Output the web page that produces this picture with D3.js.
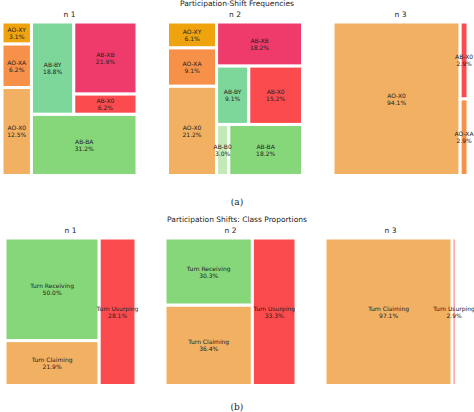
<!DOCTYPE html>
<html>
<head>
<meta charset="utf-8">
<script src="https://cdn.jsdelivr.net/npm/d3@7"></script>
<style>
  body { margin: 0; background: #fff; }
  svg { display: block; }
  text { font-family: "DejaVu Sans", sans-serif; fill: #222; }
</style>
</head>
<body>
<div id="chart"></div>
<script>
// participation-shift frequencies, percent per group (squarify order)
var shiftLabels = [
    ["AO-X0", "AO-XA", "AO-XY", "AB-BA", "AB-BY", "AB-X0", "AB-XB"],
    ["AO-X0", "AO-XA", "AO-XY", "AB-B0", "AB-BA", "AB-BY", "AB-X0", "AB-XB"],
    ["AO-X0", "AO-XA", "AB-X0"]
];
var shiftValues = [
    [12.5, 6.2, 3.1, 31.2, 18.8, 6.2, 21.9],
    [21.2, 9.1, 6.1, 3.0, 18.2, 9.1, 15.2, 18.2],
    [94.1, 2.9, 2.9]
];
// class proportions, percent per group
var classLabels = [
    ["Turn Claiming", "Turn Receiving", "Turn Usurping"],
    ["Turn Claiming", "Turn Receiving", "Turn Usurping"],
    ["Turn Claiming", "Turn Usurping"]
];
var classValues = [
    [21.9, 50.0, 28.1],
    [36.4, 30.3, 33.3],
    [97.1, 2.9]
];
var groupTitles = ["n 1", "n 2", "n 3"];

var colors = {
    "AO-XY": "#efa30f", "AO-XA": "#f79149", "AO-X0": "#f2b062",
    "AB-BY": "#7dd79a", "AB-XB": "#ee3b6b", "AB-X0": "#fb4b4e",
    "AB-BA": "#86d77a", "AB-B0": "#c3e9b7",
    "Turn Receiving": "#86d77a", "Turn Claiming": "#f2b062", "Turn Usurping": "#fb4b4e"
};

// port of python squarify (y axis upward)
function layoutRow(sizes, x, y, dx, dy) {
    var width = d3.sum(sizes) / dy;
    return sizes.map(function(s) { var r = {x: x, y: y, dx: width, dy: s / width}; y += s / width; return r; });
}
function layoutCol(sizes, x, y, dx, dy) {
    var height = d3.sum(sizes) / dx;
    return sizes.map(function(s) { var r = {x: x, y: y, dx: s / height, dy: height}; x += s / height; return r; });
}
function layout(sizes, x, y, dx, dy) {
    return dx >= dy ? layoutRow(sizes, x, y, dx, dy) : layoutCol(sizes, x, y, dx, dy);
}
function leftover(sizes, x, y, dx, dy) {
    var a = d3.sum(sizes);
    if (dx >= dy) { var w = a / dy; return [x + w, y, dx - w, dy]; }
    var h = a / dx; return [x, y + h, dx, dy - h];
}
function worst(sizes, x, y, dx, dy) {
    return d3.max(layout(sizes, x, y, dx, dy), function(r) { return Math.max(r.dx / r.dy, r.dy / r.dx); });
}
function squarify(sizes, x, y, dx, dy) {
    if (sizes.length === 0) return [];
    if (sizes.length === 1) return layout(sizes, x, y, dx, dy);
    var i = 1;
    while (i < sizes.length && worst(sizes.slice(0, i), x, y, dx, dy) >= worst(sizes.slice(0, i + 1), x, y, dx, dy)) i++;
    var cur = sizes.slice(0, i), lo = leftover(cur, x, y, dx, dy);
    return layout(cur, x, y, dx, dy).concat(squarify(sizes.slice(i), lo[0], lo[1], lo[2], lo[3]));
}

var W = 474, H = 412;
var svg = d3.select("#chart").append("svg").attr("width", W).attr("height", H);

function drawPanel(g, labels, values, x0, x1, y0, y1, title) {
    var total = d3.sum(values);
    var sizes = values.map(function(v) { return v / total * 10000; });
    var rects = squarify(sizes, 0, 0, 100, 100);
    var xs = d3.scaleLinear().domain([0, 100]).range([x0, x1]);
    var ys = d3.scaleLinear().domain([0, 100]).range([y1, y0]);

    g.append("text").attr("x", (x0 + x1) / 2).attr("y", y0 - 5)
        .attr("text-anchor", "middle").style("font-size", "7.5px").text(title);

    // patches first, then all labels on top (like matplotlib)
    g.append("g").selectAll("rect").data(rects).enter().append("rect")
        .attr("x", function(d) { return xs(d.x); })
        .attr("y", function(d) { return ys(d.y + d.dy); })
        .attr("width", function(d) { return xs(d.x + d.dx) - xs(d.x); })
        .attr("height", function(d) { return ys(d.y) - ys(d.y + d.dy); })
        .attr("fill", function(d, i) { return colors[labels[i]]; })
        .attr("stroke", "#fff").attr("stroke-width", 3);
    var t = g.append("g").selectAll("text").data(rects).enter().append("text")
        .attr("text-anchor", "middle")
        .style("font-size", "6px")
        .attr("transform", function(d) {
            return "translate(" + xs(d.x + d.dx / 2) + "," + ys(d.y + d.dy / 2) + ")";
        });
    t.append("tspan").attr("x", 0).attr("y", -1).text(function(d, i) { return labels[i]; });
    t.append("tspan").attr("x", 0).attr("y", 6).text(function(d, i) { return values[i].toFixed(1) + "%"; });
}

// (a) frequencies
svg.append("text").attr("x", 237).attr("y", 6).attr("text-anchor", "middle")
    .style("font-size", "7.5px").text("Participation-Shift Frequencies");
var topX = [[2, 137], [167.5, 302.5], [333, 468]];
topX.forEach(function(p, i) {
    drawPanel(svg.append("g"), shiftLabels[i], shiftValues[i], p[0], p[1], 22, 175.5, groupTitles[i]);
});
svg.append("text").attr("x", 237).attr("y", 205).attr("text-anchor", "middle")
    .style("font-family", "'DejaVu Serif', serif").style("font-size", "9px").text("(a)");

// (b) class proportions
svg.append("text").attr("x", 237).attr("y", 222).attr("text-anchor", "middle")
    .style("font-size", "7.5px").text("Participation Shifts: Class Proportions");
var botX = [[5, 136], [165, 296], [325, 456]];
botX.forEach(function(p, i) {
    drawPanel(svg.append("g"), classLabels[i], classValues[i], p[0], p[1], 238, 385.5, groupTitles[i]);
});
svg.append("text").attr("x", 237).attr("y", 410).attr("text-anchor", "middle")
    .style("font-family", "'DejaVu Serif', serif").style("font-size", "9px").text("(b)");
</script>
</body>
</html>
